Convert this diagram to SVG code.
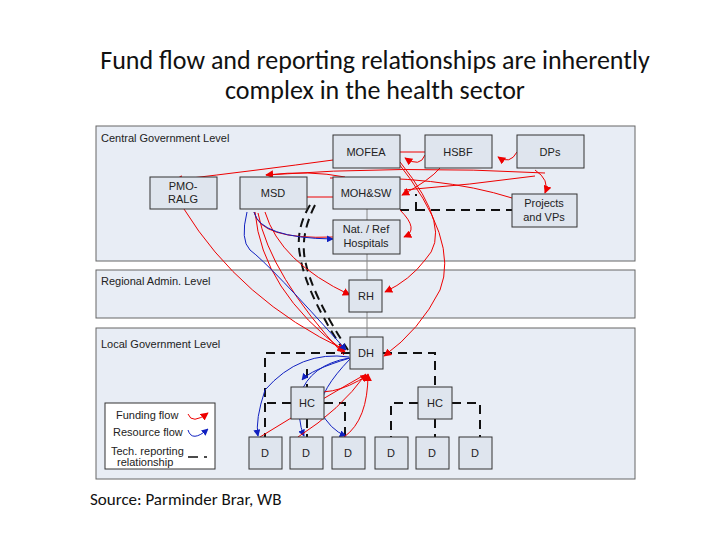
<svg xmlns="http://www.w3.org/2000/svg" width="720" height="540" viewBox="0 0 720 540">
<defs>
<style>
.t{font-family:"Liberation Sans",Arial,sans-serif;font-size:11px;fill:#222}
.b{fill:#dfe5ee;stroke:#333;stroke-width:1}
.p{fill:#e8edf5;stroke:#666;stroke-width:1}
.r{fill:none;stroke:#e00;stroke-width:1}
.u{fill:none;stroke:#1020c0;stroke-width:1}
.k{fill:none;stroke:#111;stroke-width:2;stroke-dasharray:9,6}
.g{fill:none;stroke:#888;stroke-width:1}
</style>
<marker id="ar" viewBox="0 0 10 10" refX="9" refY="5" markerWidth="8" markerHeight="8" orient="auto"><path d="M0,0L10,5L0,10z" fill="#e00"/></marker>
<marker id="ab" viewBox="0 0 10 10" refX="9" refY="5" markerWidth="7" markerHeight="7" orient="auto"><path d="M0,0L10,5L0,10z" fill="#1020c0"/></marker>
</defs>
<rect width="720" height="540" fill="#fff"/>
<text x="375" y="69" text-anchor="middle" font-family="Calibri,Carlito,'Liberation Sans',sans-serif" font-size="26" fill="#111">Fund flow and reporting relationships are inherently</text>
<text x="375" y="99" text-anchor="middle" font-family="Calibri,Carlito,'Liberation Sans',sans-serif" font-size="26" fill="#111">complex in the health sector</text>
<g id="panels">
<rect class="p" x="96" y="126" width="539" height="135"/>
<rect class="p" x="96" y="270" width="539" height="48"/>
<rect class="p" x="96" y="328" width="539" height="151"/>
<text class="t" x="101" y="142">Central Government Level</text>
<text class="t" x="101" y="285">Regional Admin. Level</text>
<text class="t" x="101" y="348">Local Government Level</text>
</g>
<g id="connectors">
<path class="g" d="M367 209V220M367 254V280M367 312V337"/>
<path class="k" d="M400 210H416V194M416 210H512"/>
<path class="k" d="M310 205Q295 230 300 255Q305 290 340 345M315 205Q300 235 305 260Q312 295 348 350"/>
<path class="k" d="M350 353H265V437M383 353H435V387M307 369V387"/>
<path class="k" d="M291 403H265M324 403H345V437M307 419V437"/>
<path class="k" d="M418 403H391V437M452 403H480V437M435 419V437"/>
<path class="r" d="M333 160Q260 170 175 180" marker-end="url(#ar)"/>
<path class="r" d="M425 152H400"/>
<path class="r" d="M425 155Q420 168 405 158" marker-end="url(#ar)"/>
<path class="r" d="M517 152Q510 165 498 157" marker-end="url(#ar)"/>
<path class="r" d="M333 197H300" marker-end="url(#ar)"/>
<path class="r" d="M345 177Q310 170 266 175" marker-end="url(#ar)"/>
<path class="r" d="M545 173Q400 165 266 175"/>
<path class="r" d="M512 198Q440 175 330 178"/>
<path class="r" d="M440 168Q430 180 402 195" marker-end="url(#ar)"/>
<path class="r" d="M535 176Q470 185 404 190"/>
<path class="r" d="M535 170Q550 180 545 193" marker-end="url(#ar)"/>
<path class="r" d="M400 210Q420 230 404 237" marker-end="url(#ar)"/>
<path class="r" d="M254 212Q260 240 333 237"/>
<path class="r" d="M184 209Q240 300 345 350" marker-end="url(#ar)"/>
<path class="r" d="M255 212Q262 290 345 352" marker-end="url(#ar)"/>
<path class="r" d="M258 213Q270 275 344 355"/>
<path class="r" d="M265 212Q280 262 350 295" marker-end="url(#ar)"/>
<path class="r" d="M400 162Q455 230 425 260Q410 280 385 292" marker-end="url(#ar)"/>
<path class="r" d="M396 160Q460 240 440 290Q420 330 384 356" marker-end="url(#ar)"/>
<path class="u" d="M247 212Q240 240 250 250Q270 265 346 350" marker-end="url(#ab)"/>
<path class="u" d="M254 212Q260 238 333 239" marker-end="url(#ab)"/>
<path class="u" d="M349 357Q300 350 265 390Q255 420 258 436" marker-end="url(#ab)"/>
<path class="u" d="M349 358Q310 365 300 395Q297 420 304 436" marker-end="url(#ab)"/>
<path class="u" d="M350 358Q310 370 302 380" marker-end="url(#ab)"/>
<path class="u" d="M350 359Q320 390 320 410Q330 430 346 436" marker-end="url(#ab)"/>
<path class="r" d="M302 388Q330 400 368 375" marker-end="url(#ar)"/>
<path class="r" d="M260 437Q320 400 366 374"/>
<path class="r" d="M298 437Q340 410 366 374"/>
<path class="r" d="M344 437Q368 420 368 374" marker-end="url(#ar)"/>
</g>
<g id="MOFEA"><rect class="b" x="333" y="135" width="67" height="33"/><text class="t" x="366" y="156" text-anchor="middle">MOFEA</text></g>
<g id="HSBF"><rect class="b" x="425" y="135" width="67" height="33"/><text class="t" x="458" y="156" text-anchor="middle">HSBF</text></g>
<g id="DPs"><rect class="b" x="517" y="135" width="67" height="33"/><text class="t" x="550" y="156" text-anchor="middle">DPs</text></g>
<g id="PMO"><rect class="b" x="150" y="177" width="67" height="32"/><text class="t" x="183" y="190" text-anchor="middle">PMO-</text><text class="t" x="183" y="203" text-anchor="middle">RALG</text></g>
<g id="MSD"><rect class="b" x="240" y="177" width="67" height="32"/><text class="t" x="273" y="197" text-anchor="middle">MSD</text></g>
<g id="MOHSW"><rect class="b" x="333" y="177" width="67" height="32"/><text class="t" x="366" y="197" text-anchor="middle">MOH&amp;SW</text></g>
<g id="Projects"><rect class="b" x="512" y="194" width="65" height="33"/><text class="t" x="544" y="207" text-anchor="middle">Projects</text><text class="t" x="544" y="221" text-anchor="middle">and VPs</text></g>
<g id="NatRef"><rect class="b" x="333" y="220" width="67" height="34"/><text class="t" x="366" y="233" text-anchor="middle">Nat. / Ref</text><text class="t" x="366" y="247" text-anchor="middle">Hospitals</text></g>
<g id="RH"><rect class="b" x="349" y="280" width="33" height="32"/><text class="t" x="366" y="300" text-anchor="middle">RH</text></g>
<g id="DH"><rect class="b" x="350" y="337" width="33" height="32"/><text class="t" x="366" y="357" text-anchor="middle">DH</text></g>
<g id="HC1"><rect class="b" x="291" y="387" width="33" height="32"/><text class="t" x="307" y="407" text-anchor="middle">HC</text></g>
<g id="HC2"><rect class="b" x="418" y="387" width="34" height="32"/><text class="t" x="435" y="407" text-anchor="middle">HC</text></g>
<g id="D1"><rect class="b" x="249" y="437" width="33" height="32"/><text class="t" x="265" y="457" text-anchor="middle">D</text></g>
<g id="D2"><rect class="b" x="290" y="437" width="33" height="32"/><text class="t" x="306" y="457" text-anchor="middle">D</text></g>
<g id="D3"><rect class="b" x="332" y="437" width="33" height="32"/><text class="t" x="348" y="457" text-anchor="middle">D</text></g>
<g id="D4"><rect class="b" x="375" y="437" width="33" height="32"/><text class="t" x="391" y="457" text-anchor="middle">D</text></g>
<g id="D5"><rect class="b" x="416" y="437" width="33" height="32"/><text class="t" x="432" y="457" text-anchor="middle">D</text></g>
<g id="D6"><rect class="b" x="459" y="437" width="33" height="32"/><text class="t" x="475" y="457" text-anchor="middle">D</text></g>
<g id="legend">
<rect x="105" y="403" width="110" height="66" fill="#fff" stroke="#333"/>
<text class="t" x="116" y="419" font-size="8.5">Funding flow</text>
<text class="t" x="113" y="436" font-size="8.5">Resource flow</text>
<text class="t" x="111" y="455" font-size="8.5">Tech. reporting</text>
<text class="t" x="117" y="466" font-size="8.5">relationship</text>
<path class="r" d="M188 414Q192 425 208 413" marker-end="url(#ar)"/>
<path class="u" d="M188 430Q192 443 208 429" marker-end="url(#ab)"/>
<path d="M188 457H198M204 457H207" stroke="#111" stroke-width="1.5"/>
</g>
<text x="90" y="505" font-family="Calibri,Carlito,'Liberation Sans',sans-serif" font-size="17" fill="#111">Source: Parminder Brar, WB</text>
</svg>
